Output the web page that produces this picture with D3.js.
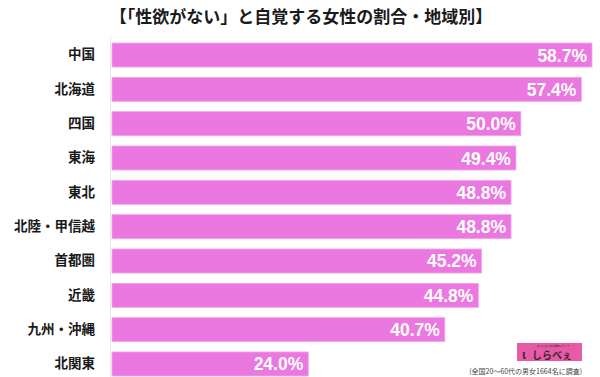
<!DOCTYPE html>
<html>
<head>
<meta charset="utf-8">
<script src="https://cdn.jsdelivr.net/npm/d3@7"></script>
<style>
  body { margin: 0; background: #fff; }
  text { font-family: "Noto Sans CJK JP", "Noto Sans", sans-serif; }
</style>
</head>
<body>
<script>
// data
const regions = ["中国", "北海道", "四国", "東海", "東北", "北陸・甲信越", "首都圏", "近畿", "九州・沖縄", "北関東"];
const rates = [58.7, 57.4, 50.0, 49.4, 48.8, 48.8, 45.2, 44.8, 40.7, 24.0];
const title = "【「性欲がない」と自覚する女性の割合・地域別】";
const note = "(全国20～60代の男女1664名に調査)";

const width = 600, height = 377;
const left = 112;

const svg = d3.select("body").append("svg")
  .attr("width", width)
  .attr("height", height);

const data = regions.map((r, i) => ({ region: r, rate: rates[i] }));

const x = d3.scaleLinear().domain([0, 58.7]).range([left, 592]);
const y = d3.scaleBand().domain(regions).range([43, 376]).paddingInner(0.3).paddingOuter(0);

// title
svg.append("text")
  .attr("x", 301).attr("y", 23)
  .attr("text-anchor", "middle")
  .style("font-size", "17px").style("font-weight", "bold")
  .attr("fill", "#1a1a1a")
  .text(title);

// thin axis line
svg.append("line")
  .attr("x1", left - 1.5).attr("x2", left - 1.5)
  .attr("y1", 37).attr("y2", height)
  .attr("stroke", "#e6e6e6").attr("stroke-width", 1);

// bars
svg.selectAll(".bar")
  .data(data)
  .enter().append("rect")
  .attr("class", "bar")
  .attr("x", x(0))
  .attr("y", d => y(d.region))
  .attr("width", d => x(d.rate) - x(0))
  .attr("height", y.bandwidth())
  .attr("fill", "#eb78e0")
  .attr("stroke", "#f3a6ec")
  .attr("stroke-width", 0.8);

// value labels
svg.selectAll(".val")
  .data(data)
  .enter().append("text")
  .attr("class", "val")
  .attr("x", d => x(d.rate) - 5)
  .attr("y", d => y(d.region) + y.bandwidth() / 2 + 6.5)
  .attr("text-anchor", "end")
  .attr("fill", "#fff")
  .style("font-family", "'Liberation Sans', Arial, sans-serif")
  .style("font-size", "17.5px").style("font-weight", "bold")
  .text(d => d.rate.toFixed(1) + "%");

// category labels
svg.append("g")
  .attr("transform", "translate(" + (left - 17) + ",0)")
  .call(d3.axisLeft(y).tickSize(0).tickPadding(0))
  .call(g => g.select(".domain").remove())
  .selectAll("text")
  .style("font-family", "'Noto Sans CJK JP', sans-serif")
  .style("font-size", "13.5px").style("font-weight", "bold")
  .attr("fill", "#1a1a1a");

// logo
const logo = svg.append("g").attr("transform", "translate(517,343)");
logo.append("rect").attr("width", 65).attr("height", 18).attr("fill", "#e85aa6");
logo.append("text").attr("x", 36).attr("y", 4)
  .attr("text-anchor", "middle")
  .style("font-size", "2.5px").attr("fill", "#333")
  .text("ありとあらゆる調査メディア");
logo.append("text").attr("x", 5).attr("y", 16)
  .style("font-size", "12px").style("font-weight", "bold").attr("fill", "#3a2a2a")
  .text("ι");
logo.append("text").attr("x", 15).attr("y", 15.5)
  .style("font-size", "10px").style("font-weight", "bold").attr("fill", "#3a2a2a")
  .text("しらべぇ");

// footnote
svg.append("text")
  .attr("x", 582).attr("y", 374)
  .attr("text-anchor", "end")
  .style("font-size", "7px").attr("fill", "#444")
  .text(note);
</script>
</body>
</html>
